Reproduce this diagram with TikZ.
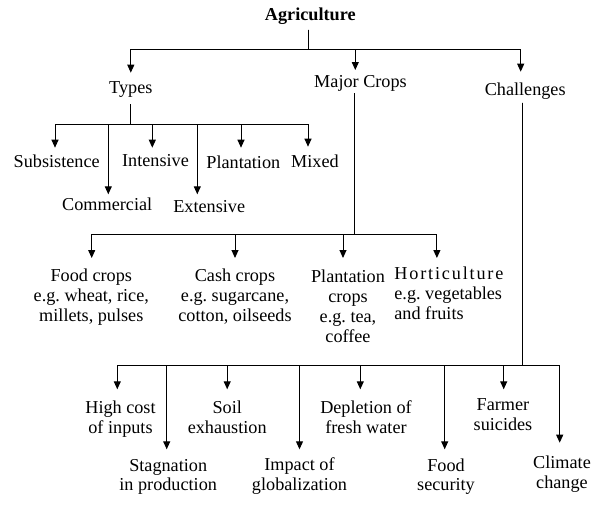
\documentclass[tikz,border=0pt]{standalone}
\usepackage{fontspec}
\setmainfont{Liberation Serif}
\usetikzlibrary{arrows.meta}

\begin{document}
\begin{tikzpicture}[x=1pt,y=-1pt,line width=1pt,>={Triangle[length=8pt,width=7pt]},
                    every node/.style={font=\fontsize{18.2}{19.8}\selectfont\frenchspacing,
                                       inner sep=1pt,anchor=north,align=center},
                    head node/.style={font=\fontsize{18.2}{19.8}\selectfont\bfseries}]

  \useasboundingbox (0,0) rectangle (606,512);

  \node[head node] (agri) at (310.3,6.6) {Agriculture};

  \node (types) at (130.8,79.6) {Types};
  \node (crops) at (360.5,73.9) {Major Crops};
  \node (chall) at (525.2,81.6) {Challenges};

  \node (sub) at (56.7,153.3) {Subsistence};
  \node (int) at (155.5,153.3) {Intensive};
  \node (pla) at (243.3,154.6) {Plantation};
  \node (mix) at (315,153.3) {Mixed};
  \node (com) at (107.2,195.9) {Commercial};
  \node (ext) at (209.2,198.6) {Extensive};

  \node (food) at (91.3,267.6) {Food crops\\e.g. wheat, rice,\\millets, pulses};
  \node (cash) at (235,267.6) {Cash crops\\e.g. sugarcane,\\cotton, oilseeds};
  \node (plc) at (348,268.6) {Plantation\\crops\\e.g. tea,\\coffee};
  \node[align=left] (hort) at (448.9,265.3)
    {{\addfontfeature{LetterSpace=10}Horticulture}\\e.g. vegetables\\and fruits};

  \node (cost) at (120.5,399.3) {High cost\\of inputs};
  \node (soil) at (227.2,399.3) {Soil\\exhaustion};
  \node (water) at (366,399.3) {Depletion of\\fresh water};
  \node (suic) at (503,397) {Farmer\\suicides};
  \node (stag) at (168.2,457.6) {Stagnation\\in production};
  \node (glob) at (299.5,456.6) {Impact of\\globalization};
  \node (fsec) at (446,456.9) {Food\\security};
  \node (clim) at (562,454.3) {Climate\\change};

  % levels of the branching lines
  \coordinate (b0) at (0,49.3);
  \coordinate (b1) at (0,124.3);
  \coordinate (b2) at (0,234.3);
  \coordinate (b3) at (0,365.3);

  \foreach \n/\d/\g in {types/0/6.9,crops/-5.2/3.9,chall/-4.5/9.9}
    \draw[->,shorten <=3.5pt,shorten >=\g pt] ([xshift=-2.3pt]agri.south)
      -- ([xshift=-2.3pt]agri.south |- b0) -| ([xshift=\d pt]\n.north);

  \foreach \n/\d/\g in {sub/-1.7/5.6,com/1.1/1.6,int/-3.2/5.6,ext/-11.9/4.3,pla/-2.3/6.9,mix/-7/6.6}
    \draw[->,shorten <=5.7pt,shorten >=\g pt] (types.south)
      -- (types.south |- b1) -| ([xshift=\d pt]\n.north);

  \foreach \n/\d/\g in {food/0.4/9.6,cash/0/9.6,plc/-5/10.6,hort/-12/7.3}
    \draw[->,shorten <=0.4pt,shorten >=\g pt] ([xshift=-6.5pt]crops.south)
      -- ([xshift=-6.5pt]crops.south |- b2) -| ([xshift=\d pt]\n.north);

  \foreach \n/\d/\g in {cost/-3.2/10,stag/-1.5/8.3,soil/0/10,glob/0/7.3,water/-5.7/10,fsec/-1.3/7.6,suic/0.7/7.7,clim/-2.3/11.6}
    \draw[->,shorten <=1.7pt,shorten >=\g pt] ([xshift=-2.9pt]chall.south)
      -- ([xshift=-2.9pt]chall.south |- b3) -| ([xshift=\d pt]\n.north);
\end{tikzpicture}
\end{document}
